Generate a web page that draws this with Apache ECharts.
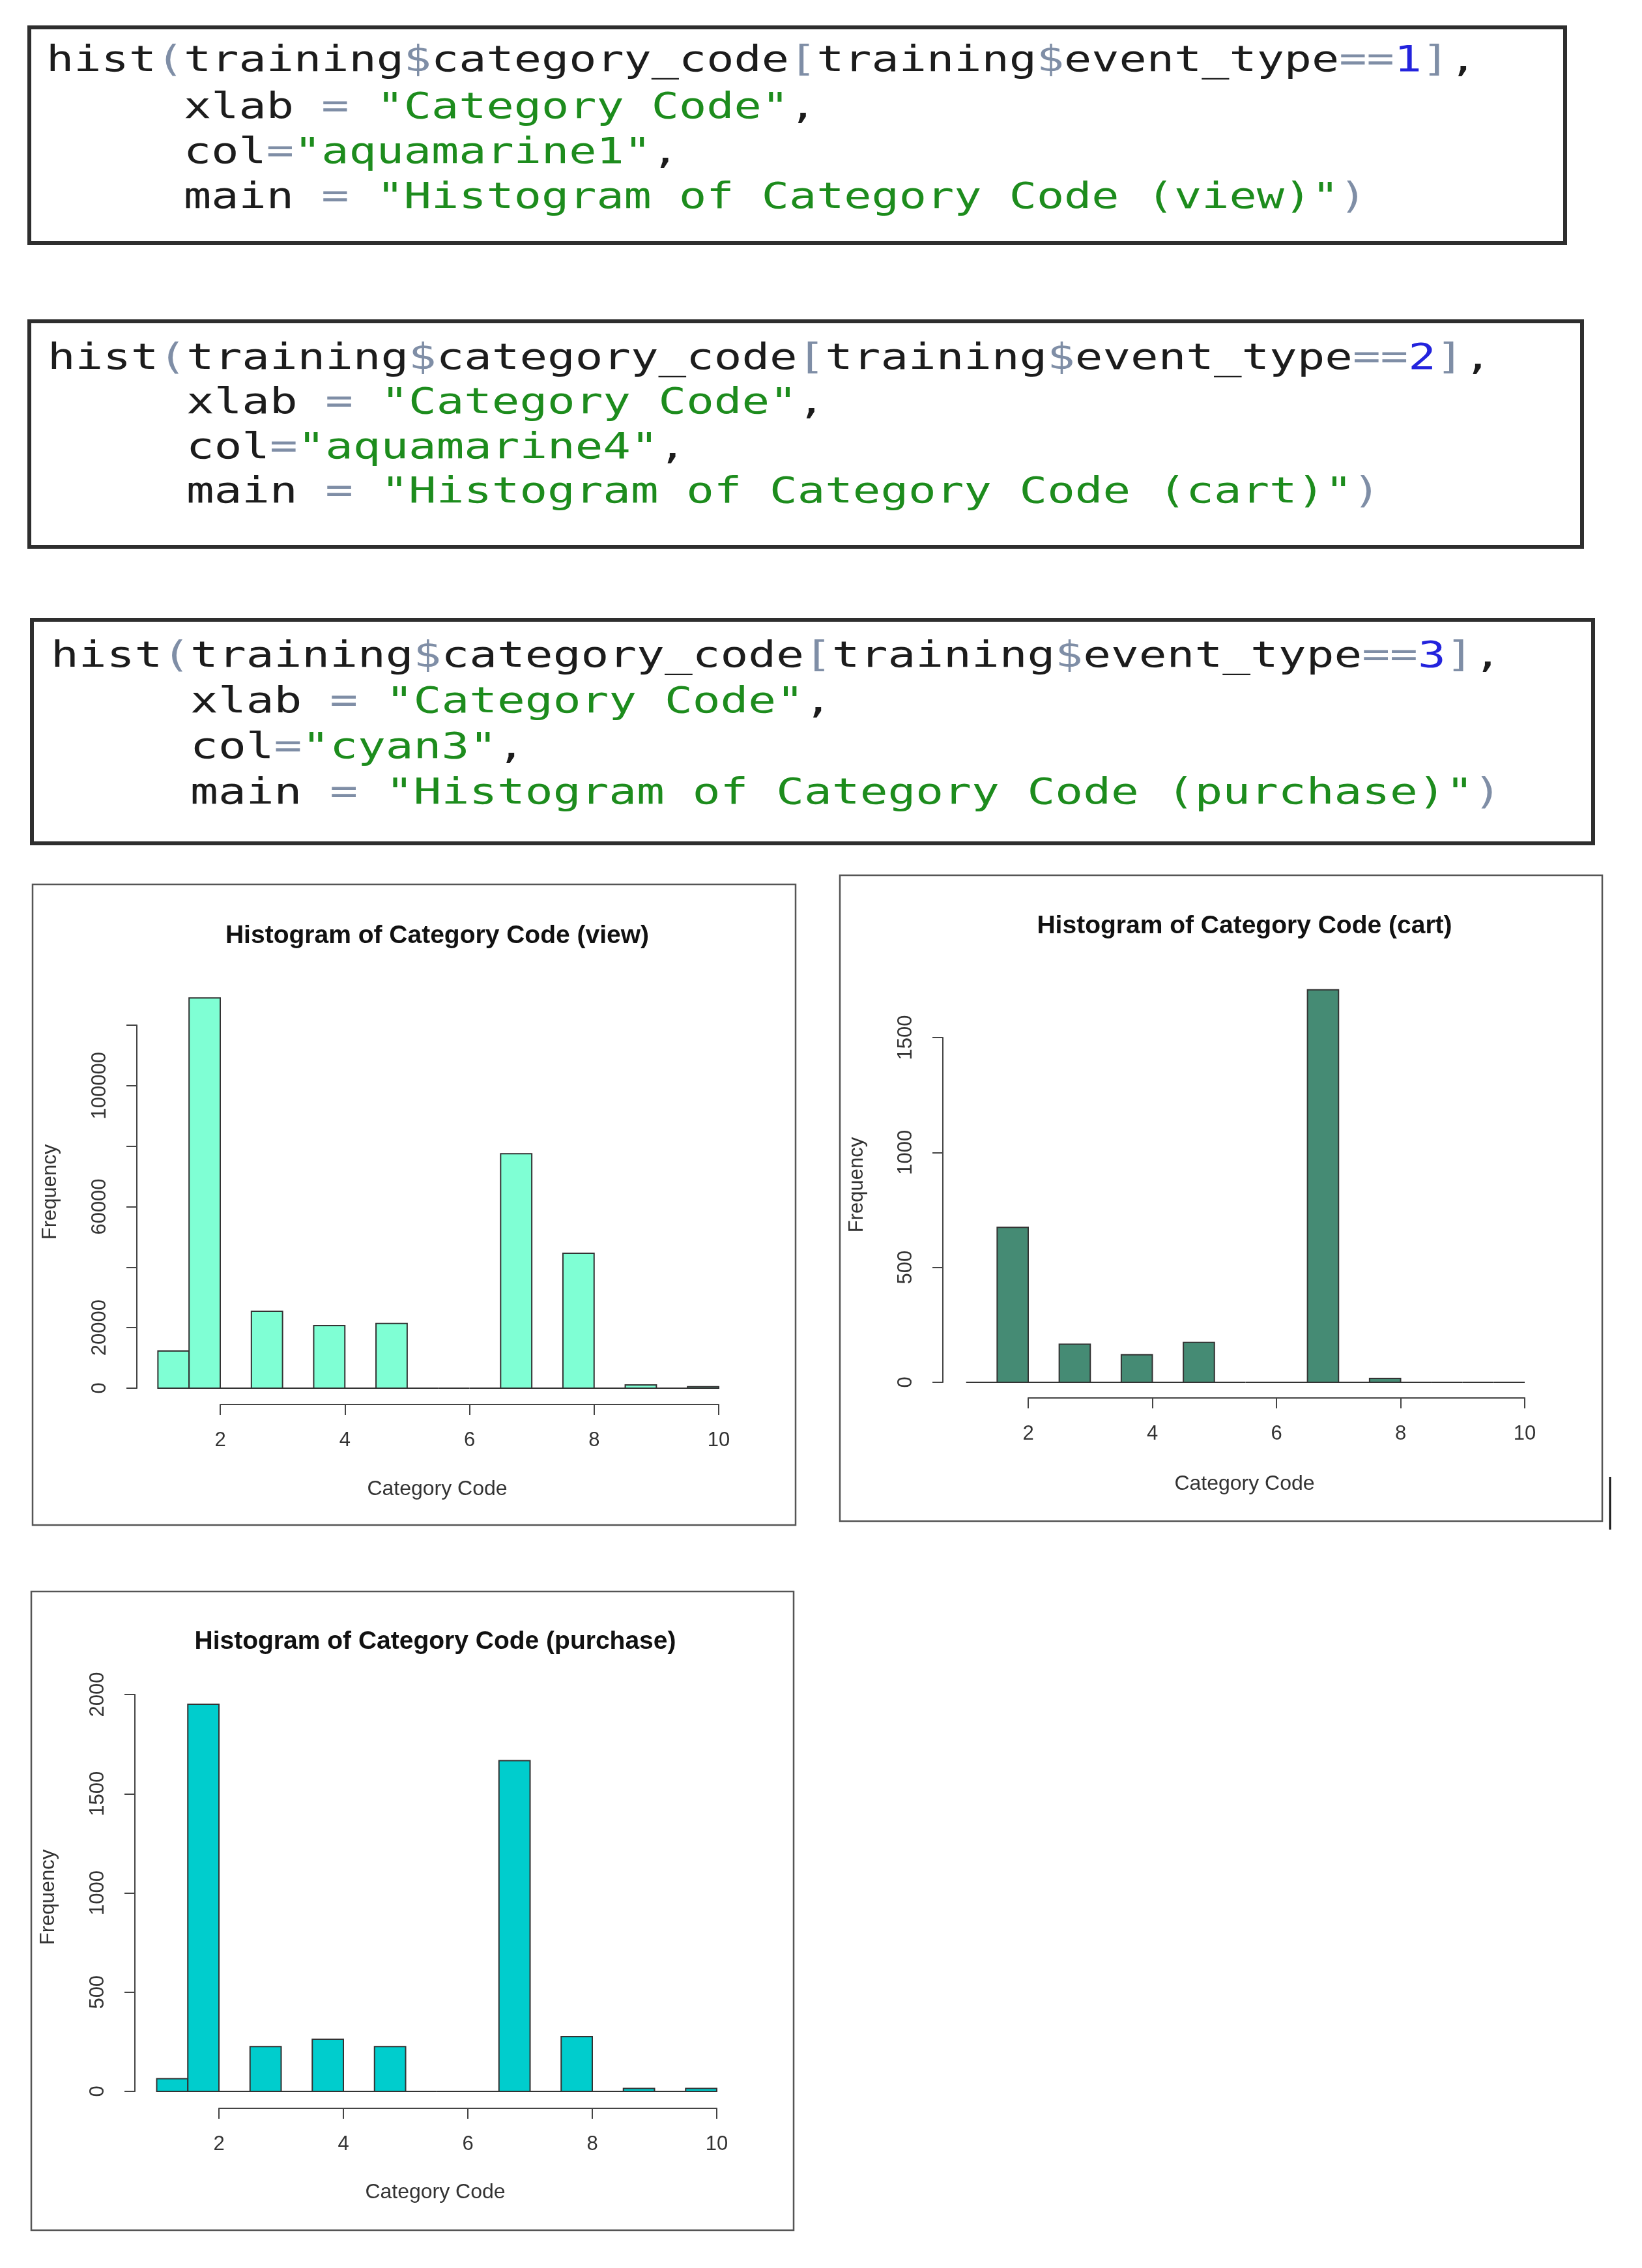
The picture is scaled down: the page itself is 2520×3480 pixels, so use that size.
<!DOCTYPE html>
<html lang="en">
<head>
<meta charset="UTF-8" />
<title>Histograms of Category Code</title>
<script src="https://cdn.jsdelivr.net/npm/echarts@6/dist/echarts.min.js"></script>
<style>
    body { margin: 0; background: #fff; }
    #chart { width: 2520px; height: 3480px; }
</style>
</head>
<body>
<div id="chart"></div>
<script>
// bins of hist() and the counts
const breaks = [1, 1.5, 2, 2.5, 3, 3.5, 4, 4.5, 5, 5.5, 6, 6.5, 7, 7.5, 8, 8.5, 9, 9.5, 10];
const viewCounts = [12300, 129000, 0, 25400, 0, 20700, 0, 21400, 0, 0, 0, 77500, 0, 44600, 0, 1100, 0, 500];
const cartCounts = [0, 674, 0, 166, 0, 120, 0, 174, 0, 0, 0, 1708, 0, 17, 0, 0, 0, 0];
const purchaseCounts = [64, 1951, 0, 226, 0, 263, 0, 226, 0, 0, 0, 1667, 0, 276, 0, 15, 0, 15];

const xTicks = [2, 4, 6, 8, 10];
const viewYTicks = [0, 20000, 40000, 60000, 80000, 100000, 120000];
const viewYLabels = [0, 20000, 60000, 100000];
const cartYTicks = [0, 500, 1000, 1500];
const purchaseYTicks = [0, 500, 1000, 1500, 2000];

const eventTypes = [1, 2, 3];
const eventNames = ['view', 'cart', 'purchase'];
const colNames = ['aquamarine1', 'aquamarine4', 'cyan3'];

// where things sit on the page
const panels = [
    { counts: viewCounts, yTicks: viewYTicks, yLabels: viewYLabels, fill: '#7fffd4',
      box: [50, 1357, 1171, 983], px2: 338, px10: 1103, py0: 2130, pyTop: 1573,
      axisX: 210, axisY: 2155, cx: 671, titleY: 1436, xlabY: 2285, freqX: 77, freqY: 1829 },
    { counts: cartCounts, yTicks: cartYTicks, yLabels: cartYTicks, fill: '#458b74',
      box: [1289, 1343, 1170, 991], px2: 1578, px10: 2340, py0: 2121, pyTop: 1592,
      axisX: 1447, axisY: 2145, cx: 1910, titleY: 1421, xlabY: 2277, freqX: 1315, freqY: 1818 },
    { counts: purchaseCounts, yTicks: purchaseYTicks, yLabels: purchaseYTicks, fill: '#00cdcd',
      box: [48, 2442, 1170, 980], px2: 336, px10: 1100, py0: 3209, pyTop: 2600,
      axisX: 207, axisY: 3235, cx: 668, titleY: 2519, xlabY: 3364, freqX: 74, freqY: 2911 }
];

const codeBoxes = [
    { rect: [45, 42, 2357, 331], x: 71, lines: [95, 167, 236, 305], sx: 1.275 },
    { rect: [45, 493, 2383, 346], x: 73, lines: [552, 620, 689, 757], sx: 1.287 },
    { rect: [49, 951, 2396, 343], x: 78, lines: [1009, 1079, 1149, 1219], sx: 1.293 }
];

const MONO = 'DejaVu Sans Mono';
const SANS = 'Liberation Sans';
const CODE_SIZE = 55;

function codeLines(i) {
    return [
        '{k|hist}{p|(}{k|training}{p|$}{k|category_code}{p|[}{k|training}{p|$}{k|event_type}{p|==}{n|' + eventTypes[i] + '}{p|]}{k|,}',
        '{k|     xlab }{p|=}{k| }{s|"Category Code"}{k|,}',
        '{k|     col}{p|=}{s|"' + colNames[i] + '"}{k|,}',
        '{k|     main }{p|=}{k| }{s|"Histogram of Category Code (' + eventNames[i] + ')"}{p|)}'
    ];
}

const codeRich = {
    k: { fill: '#1c1c1c', fontFamily: MONO, fontSize: CODE_SIZE },
    p: { fill: '#7f8ea6', fontFamily: MONO, fontSize: CODE_SIZE },
    n: { fill: '#2323dd', fontFamily: MONO, fontSize: CODE_SIZE },
    s: { fill: '#1d8c1d', fontFamily: MONO, fontSize: CODE_SIZE }
};

const grids = [], xAxes = [], yAxes = [], series = [], graphics = [];
const axisLine = { show: true, lineStyle: { color: '#444', width: 2 } };
const axisTick = { show: true, length: 16, lineStyle: { color: '#444', width: 2 } };
const labelFont = { fontFamily: SANS, fontSize: 31, color: '#333' };

// code boxes
codeBoxes.forEach((b, i) => {
    graphics.push({
        type: 'rect',
        shape: { x: b.rect[0], y: b.rect[1], width: b.rect[2], height: b.rect[3] },
        style: { fill: '#fff', stroke: '#2e2e2e', lineWidth: 6 }
    });
    codeLines(i).forEach((txt, j) => {
        graphics.push({
            type: 'text', x: b.x, y: b.lines[j], scaleX: b.sx,
            style: { text: txt, rich: codeRich, fontFamily: MONO, fontSize: CODE_SIZE,
                     verticalAlign: 'middle', textVerticalAlign: 'middle' }
        });
    });
});

panels.forEach((p, i) => {
    const unit = (p.px10 - p.px2) / (xTicks[xTicks.length - 1] - xTicks[0]);
    const yMax = p.yTicks[p.yTicks.length - 1];
    const yUnit = (p.py0 - p.pyTop) / yMax;
    const barMax = yMax * 1.25;

    // bars
    const g = grids.length;
    grids.push({ left: p.px2 - unit * (xTicks[0] - breaks[0]), top: p.py0 - barMax * yUnit,
                 width: unit * (breaks[breaks.length - 1] - breaks[0]), height: barMax * yUnit });
    xAxes.push({ type: 'value', gridIndex: g, min: breaks[0], max: breaks[breaks.length - 1], show: false });
    yAxes.push({ type: 'value', gridIndex: g, min: 0, max: barMax, show: false });
    series.push({
        type: 'custom', xAxisIndex: g, yAxisIndex: g, silent: true, animation: false,
        encode: { x: [0, 1], y: 2 },
        data: p.counts.map((c, k) => [breaks[k], breaks[k + 1], c]),
        renderItem: (params, api) => {
            const tl = api.coord([api.value(0), api.value(2)]);
            const br = api.coord([api.value(1), 0]);
            return {
                type: 'rect',
                shape: { x: tl[0], y: tl[1], width: br[0] - tl[0], height: br[1] - tl[1] },
                style: { fill: p.fill, stroke: '#333', lineWidth: 2 }
            };
        }
    });

    // x axis, drawn below the bars like R does
    const gx = grids.length;
    grids.push({ left: p.px2, top: p.axisY - 20, width: p.px10 - p.px2, height: 20 });
    xAxes.push({
        type: 'value', gridIndex: gx, position: 'bottom',
        min: xTicks[0], max: xTicks[xTicks.length - 1], interval: xTicks[1] - xTicks[0],
        axisLine, axisTick, splitLine: { show: false },
        axisLabel: Object.assign({ margin: 55, verticalAlign: 'middle', showMinLabel: true, showMaxLabel: true }, labelFont)
    });
    yAxes.push({ type: 'value', gridIndex: gx, show: false });

    // y axis, to the left
    const gy = grids.length;
    grids.push({ left: p.axisX, top: p.pyTop, width: 20, height: p.py0 - p.pyTop });
    xAxes.push({ type: 'value', gridIndex: gy, show: false });
    yAxes.push({
        type: 'value', gridIndex: gy, position: 'left',
        min: 0, max: yMax, interval: p.yTicks[1] - p.yTicks[0],
        axisLine, axisTick, splitLine: { show: false },
        axisLabel: Object.assign({
            rotate: 90, margin: 57, verticalAlign: 'middle', showMinLabel: true, showMaxLabel: true,
            formatter: v => (p.yLabels.indexOf(v) >= 0 ? String(v) : '')
        }, labelFont)
    });

    // panel frame and texts
    graphics.push({
        type: 'rect',
        shape: { x: p.box[0], y: p.box[1], width: p.box[2], height: p.box[3] },
        style: { fill: 'none', stroke: '#555', lineWidth: 2.5 }
    });
    graphics.push({
        type: 'text', x: p.cx, y: p.titleY,
        style: { text: 'Histogram of Category Code (' + eventNames[i] + ')', fontFamily: SANS,
                 fontWeight: 'bold', fontSize: 39, fill: '#111',
                 align: 'center', textAlign: 'center', verticalAlign: 'middle', textVerticalAlign: 'middle' }
    });
    graphics.push({
        type: 'text', x: p.cx, y: p.xlabY,
        style: { text: 'Category Code', fontFamily: SANS, fontSize: 32, fill: '#333',
                 align: 'center', textAlign: 'center', verticalAlign: 'middle', textVerticalAlign: 'middle' }
    });
    graphics.push({
        type: 'text', x: p.freqX, y: p.freqY, rotation: Math.PI / 2,
        style: { text: 'Frequency', fontFamily: SANS, fontSize: 31, fill: '#333',
                 align: 'center', textAlign: 'center', verticalAlign: 'middle', textVerticalAlign: 'middle' }
    });
});

// stray text cursor at the right of the cart panel
graphics.push({
    type: 'line', shape: { x1: 2471, y1: 2266, x2: 2471, y2: 2347 },
    style: { stroke: '#111', lineWidth: 3 }
});

const chart = echarts.init(document.getElementById('chart'), null, { renderer: 'canvas' });
chart.setOption({
    backgroundColor: '#fff',
    animation: false,
    grid: grids,
    xAxis: xAxes,
    yAxis: yAxes,
    series: series,
    graphic: graphics
});
</script>
</body>
</html>
